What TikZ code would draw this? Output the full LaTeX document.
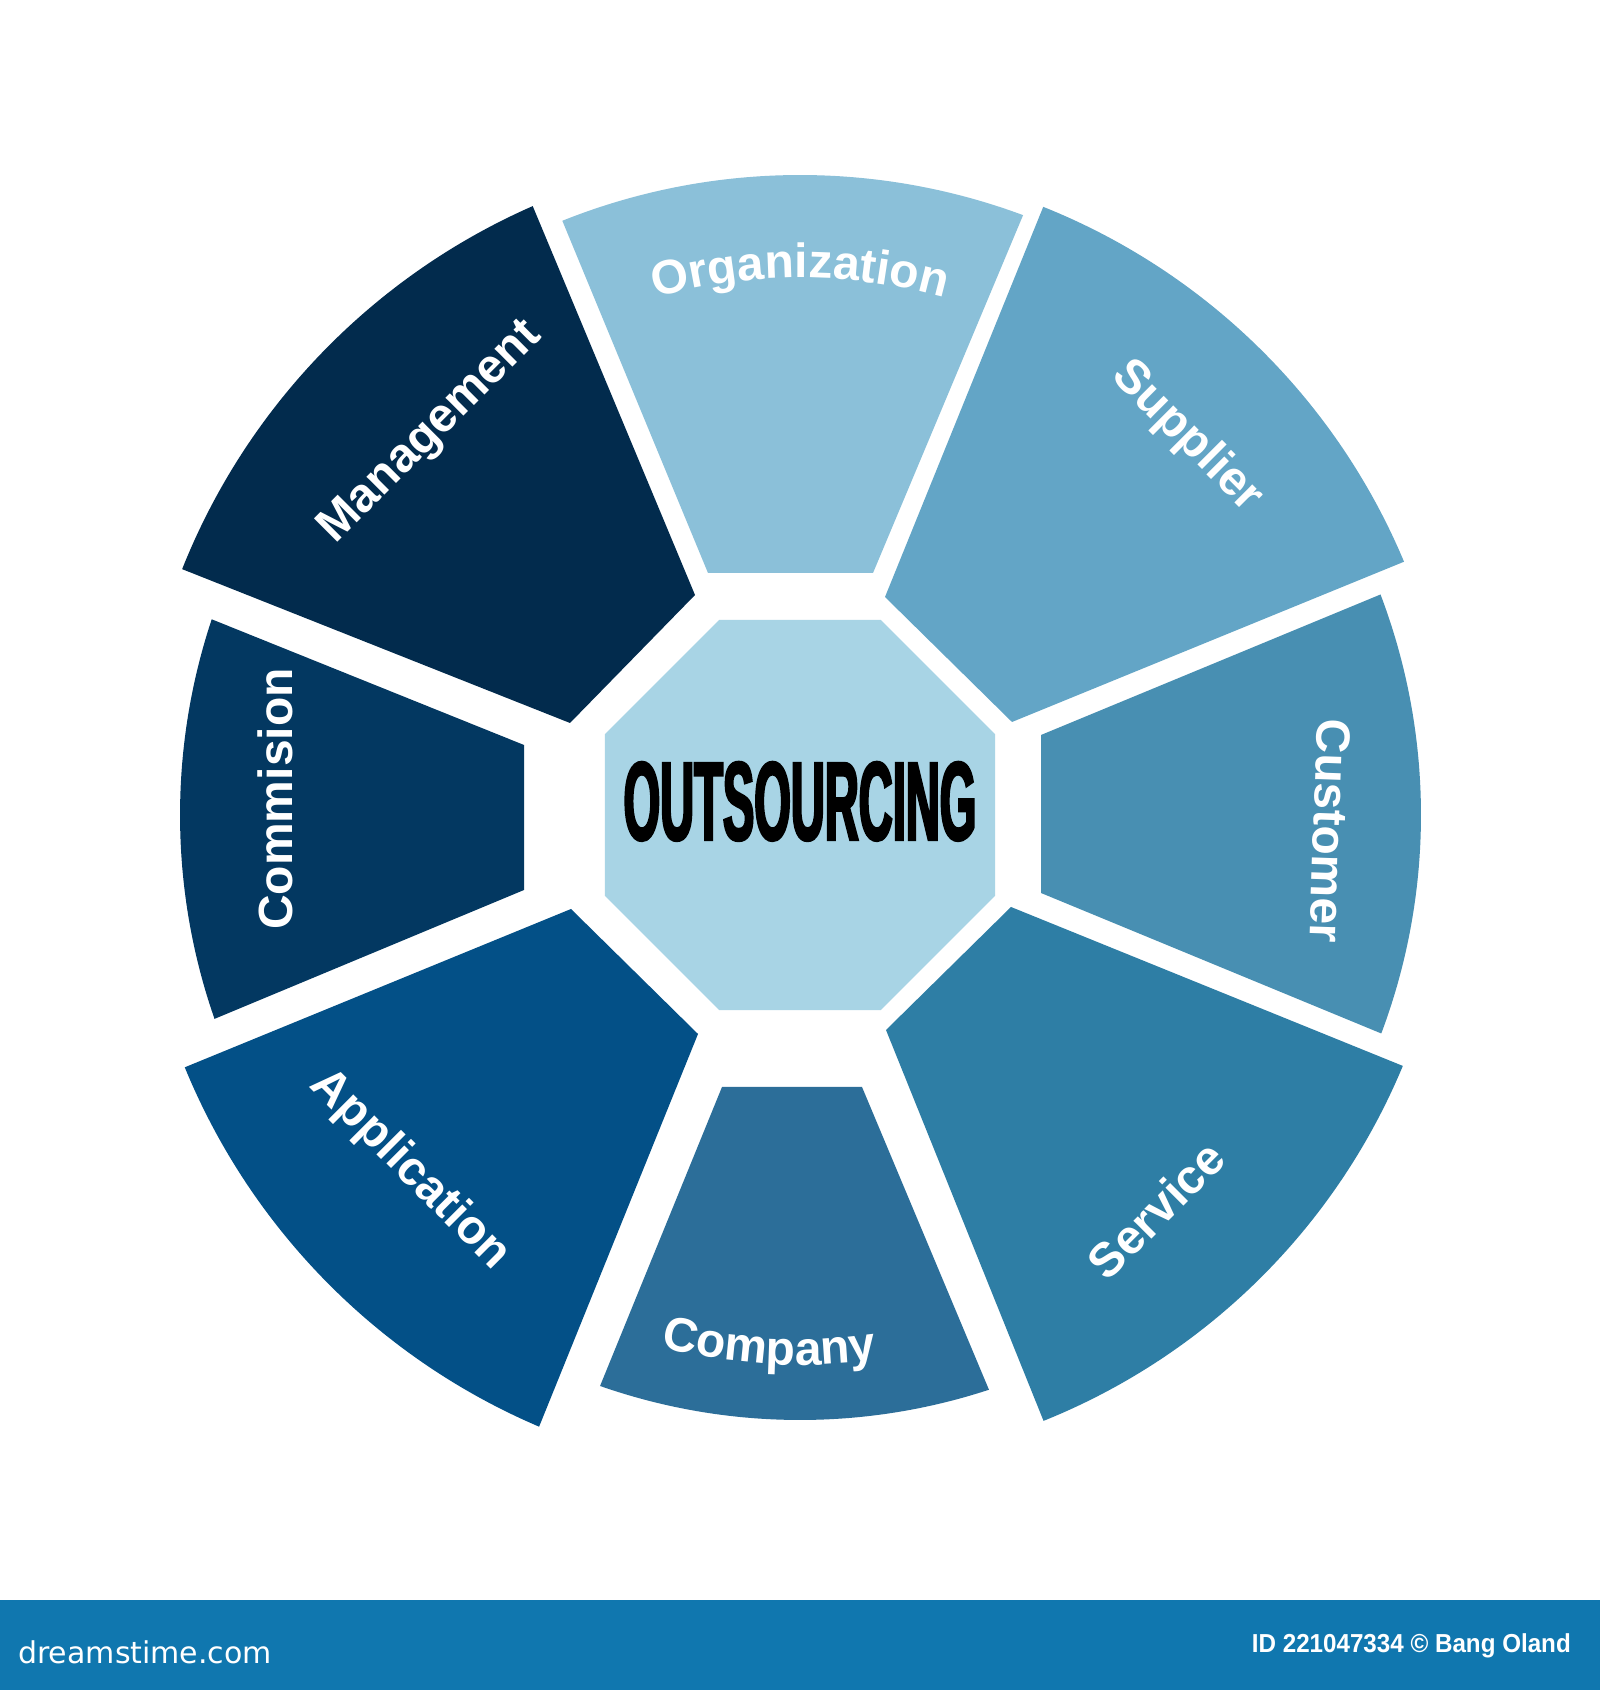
\documentclass[tikz,border=0pt]{standalone}
\usepackage{fontspec}
\usetikzlibrary{decorations.text}
\newfontfamily\lblfont{Liberation Sans}
\newfontfamily\outfont{Liberation Sans}[FakeStretch=0.42,FakeBold=2]
\newfontfamily\idfont{Liberation Sans}[FakeStretch=0.93]
\newfontfamily\logofont{DejaVu Sans}
\definecolor{cOrg}{HTML}{8BC0D9}
\definecolor{cSup}{HTML}{63A5C6}
\definecolor{cCus}{HTML}{488FB2}
\definecolor{cSer}{HTML}{2E7EA5}
\definecolor{cCom}{HTML}{2C6E99}
\definecolor{cApp}{HTML}{035087}
\definecolor{cCms}{HTML}{033861}
\definecolor{cMan}{HTML}{022B4D}
\definecolor{cOct}{HTML}{A8D4E5}
\definecolor{cFoot}{HTML}{1077AF}
\newcommand\lblfmt{\lblfont\bfseries\fontsize{48}{50}\selectfont\color{white}}
\begin{document}
\begin{tikzpicture}[x=1pt,y=1pt,
  lbl/.style={font=\lblfont\bfseries\fontsize{48}{50}\selectfont, text=white, inner sep=0pt},
  arctext/.style={decorate, decoration={text along path, text align=center, text={|\lblfmt|#1}}}]
\useasboundingbox (0,0) rectangle (1600,1690);
\fill[white] (0,0) rectangle (1600,1690);
\begin{scope}[shift={(800,875)}]
  % segments
  \fill[cOrg] (-92,242) -- (73,242) -- (69.6:640) arc[start angle=69.6,end angle=111.8,radius=640] -- cycle;
  \fill[cSup] (85,218) -- (212,93) -- (22.75:655) arc[start angle=22.75,end angle=68.2,radius=655] -- cycle;
  \fill[cCus] (241,-78) -- (-20.6:621) arc[start angle=-20.6,end angle=20.8,radius=621] -- (241,80) -- cycle;
  \fill[cSer] (211,-92) -- (86,-215) -- (-68.1:653) arc[start angle=-68.1,end angle=-22.6,radius=653] -- cycle;
  \fill[cCom] (-78,-272) -- (-109.3:605) arc[start angle=-109.3,end angle=-71.8,radius=605] -- (62,-272) -- cycle;
  \fill[cApp] (-229,-94) -- (202.3:665) arc[start angle=202.3,end angle=246.9,radius=665] -- (-102,-219) -- cycle;
  \fill[cCms] (-276,70) -- (161.6:620) arc[start angle=161.6,end angle=199.2,radius=620] -- (-276,-75) -- cycle;
  \fill[cMan] (-105,220) -- (113.7:665) arc[start angle=113.7,end angle=158.3,radius=665] -- (-230,92) -- cycle;
  % centre octagon
  \fill[cOct] (22.5:211.1) -- (67.5:211.1) -- (112.5:211.1) -- (157.5:211.1) -- (202.5:211.1) -- (247.5:211.1) -- (292.5:211.1) -- (337.5:211.1) -- cycle;
  \node[font=\outfont\bfseries\fontsize{112}{112}\selectfont, anchor=base, inner sep=0pt] (out) at (0,-25) {OUTSOURCING};
  % labels
  \path[arctext=Organization] (115:537) arc[start angle=115,end angle=65,radius=537];
  \path[arctext=Company] (-123.3:550) arc[start angle=-123.3,end angle=-63.3,radius=550];
  \node[lbl, rotate=45] (man) at (-369,382) {Management};
  \node[lbl, rotate=-45] (sup) at (387,378) {Supplier};
  \node[lbl, rotate=-92] (cus) at (530,-16) {Customer};
  \node[lbl, rotate=45] (ser) at (356,-395) {Service};
  \node[lbl, rotate=-45] (app) at (-390,-355) {Application};
  \node[lbl, rotate=90] (cms) at (-525,16) {Commision};
\end{scope}
% footer
\fill[cFoot] (0,0) rectangle (1600,90);
\node[font=\logofont\fontsize{30}{30}\selectfont, text=white, anchor=base west, inner sep=0pt] (logo) at (18,27) {dreamstime.com};
\node[font=\idfont\bfseries\fontsize{26}{26}\selectfont, text=white, anchor=base east, inner sep=0pt] (id) at (1571,37) {ID 221047334 © Bang Oland};
\end{tikzpicture}
\end{document}
